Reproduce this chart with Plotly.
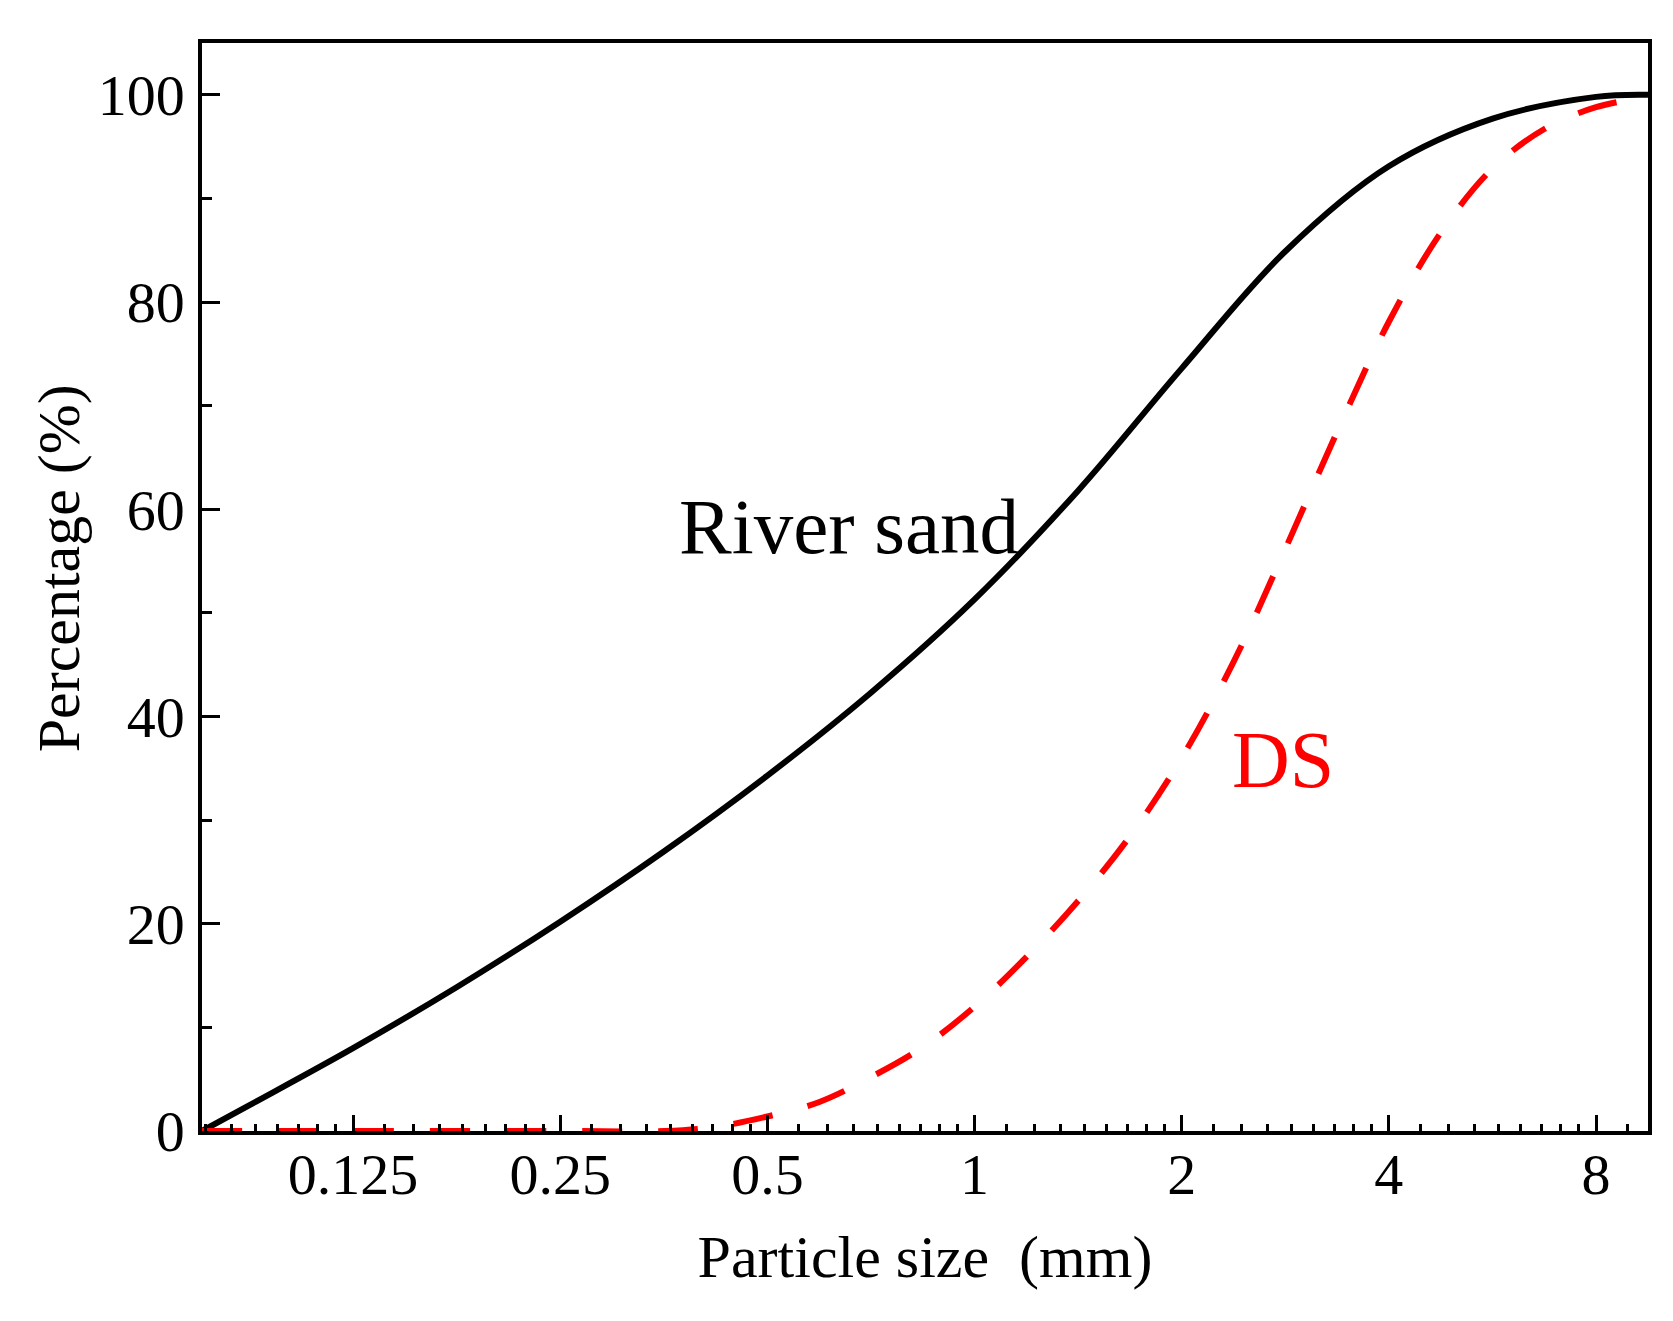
import numpy as np
import plotly.graph_objects as go

# particle size distribution
river_x = [0.0754, 0.0884, 0.125, 0.177, 0.25, 0.354, 0.5, 0.707, 1.0, 1.414,
           2.0, 2.83, 4.0, 5.66, 8.0, 9.52]
river_y = [0, 2.5, 8.0, 13.9, 20.2, 27.0, 34.3, 42.3, 51.3, 61.8,
           73.6, 84.9, 93.1, 97.7, 99.8, 100]

ds_x = [0.0754, 0.125, 0.25, 0.354, 0.42, 0.5, 0.595, 0.707, 0.841, 1.0,
        1.19, 1.414, 1.68, 2.0, 2.38, 2.83, 3.36, 4.0, 4.76, 5.66,
        6.73, 8.0, 9.52]
ds_y = [0, 0, 0, 0, 0.4, 1.4, 2.8, 5.2, 8.1, 12.0,
        16.8, 22.2, 28.4, 36.0, 45.3, 56.2, 67.4, 78.1, 86.7, 92.9,
        96.7, 98.8, 99.8]

x_ticks = [0.125, 0.25, 0.5, 1, 2, 4, 8]
x_ticktext = ["0.125", "0.25", "0.5", "1", "2", "4", "8"]
y_ticks = [0, 20, 40, 60, 80, 100]

# 8 minor ticks between each doubling
x_minor = [m * (1 + i / 9) for m in [0.0625] + x_ticks for i in range(1, 9)]

font = "Liberation Serif"

fig = go.Figure()
fig.add_trace(go.Scatter(x=river_x, y=river_y, mode="lines",
                         line=dict(color="black", width=6, shape="spline"),
                         name="River sand"))
fig.add_trace(go.Scatter(x=ds_x, y=ds_y, mode="lines",
                         line=dict(color="#FF0000", width=6, shape="spline", dash="40px,36px"),
                         name="DS"))

fig.add_annotation(x=np.log10(0.656), y=58.3, text="River sand", showarrow=False,
                   font=dict(family=font, size=79, color="black"))
fig.add_annotation(x=np.log10(2.805), y=35.8, text="DS", showarrow=False,
                   font=dict(family=font, size=80, color="#FF0000"))
# y title as annotation so it can sit a bit above the centre
fig.add_annotation(x=-0.099, y=0.517, xref="paper", yref="paper", text="Percentage (%)",
                   textangle=-90, showarrow=False, xanchor="center", yanchor="middle",
                   font=dict(family=font, size=60, color="black"))

# page body has an 8px margin, so the figure is shifted by that
fig.update_layout(
    width=1665, height=1313,
    margin=dict(l=194, r=25, t=35, b=190),
    plot_bgcolor="white", paper_bgcolor="white",
    showlegend=False,
    font=dict(family=font, color="black"),
)
fig.update_xaxes(
    type="log", range=[np.log10(0.0754), np.log10(9.52)],
    tickvals=x_ticks, ticktext=x_ticktext,
    ticks="inside", ticklen=16, tickwidth=3, tickcolor="black",
    minor=dict(tickvals=x_minor, ticks="inside", ticklen=7, tickwidth=2.5, tickcolor="black"),
    showline=True, linewidth=3.5, linecolor="black", mirror=True,
    showgrid=False, zeroline=False,
    tickfont=dict(family=font, size=58), ticklabelstandoff=-10,
    title=dict(text="Particle size  (mm)", font=dict(family=font, size=60), standoff=30),
)
fig.update_yaxes(
    range=[0, 105], tickvals=y_ticks,
    ticks="inside", ticklen=18, tickwidth=3, tickcolor="black",
    minor=dict(dtick=10, ticks="inside", ticklen=10, tickwidth=3, tickcolor="black"),
    showline=True, linewidth=3.5, linecolor="black", mirror=True,
    showgrid=False, zeroline=False,
    tickfont=dict(family=font, size=58), ticklabelstandoff=2,
)

fig.write_html("out.html")
